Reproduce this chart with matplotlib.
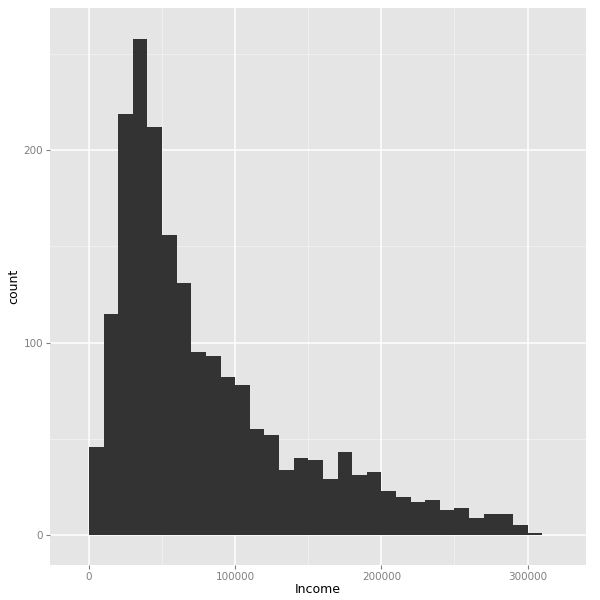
import matplotlib
matplotlib.use("Agg")
import matplotlib.pyplot as plt
import numpy as np

bin_width = 10000
bin_starts = list(range(0, 310000, 10000))
counts = [46, 115, 219, 258, 212, 156, 131, 95, 93, 82, 78, 55, 52, 34, 40, 39,
          29, 43, 31, 33, 23, 20, 17, 18, 13, 14, 9, 11, 11, 5, 1]
x_ticks = [0, 100000, 200000, 300000]
x_labels = ["0", "100000", "200000", "300000"]
y_ticks = [0, 100, 200]

fig = plt.figure(figsize=(6, 6), dpi=100)
ax = fig.add_axes([50/600, 35/600, 536/600, 557/600])
ax.set_facecolor("#E5E5E5")
for s in ax.spines.values():
    s.set_visible(False)
for v in [50000, 150000, 250000, 350000]:
    ax.axvline(v, color="#F2F2F2", lw=0.6, zorder=0)
for v in [50, 150, 250]:
    ax.axhline(v, color="#F2F2F2", lw=0.6, zorder=0)
for v in x_ticks:
    ax.axvline(v, color="white", lw=1.1, zorder=0)
for v in y_ticks:
    ax.axhline(v, color="white", lw=1.1, zorder=0)
ax.bar(bin_starts, counts, width=bin_width, align="edge", color="#333333", zorder=2)
ax.set_xlim(-26700, 340000)
ax.set_ylim(-15.6, 274)
ax.set_xticks(x_ticks)
ax.set_xticklabels(x_labels)
ax.set_yticks(y_ticks)
ax.tick_params(colors="#7F7F7F", labelsize=7.5, length=3, labelcolor="#7F7F7F", pad=2)
ax.set_xlabel("Income", fontsize=9, labelpad=1)
ax.set_ylabel("count", fontsize=9, labelpad=2)
fig.savefig("out.png", dpi=100)
